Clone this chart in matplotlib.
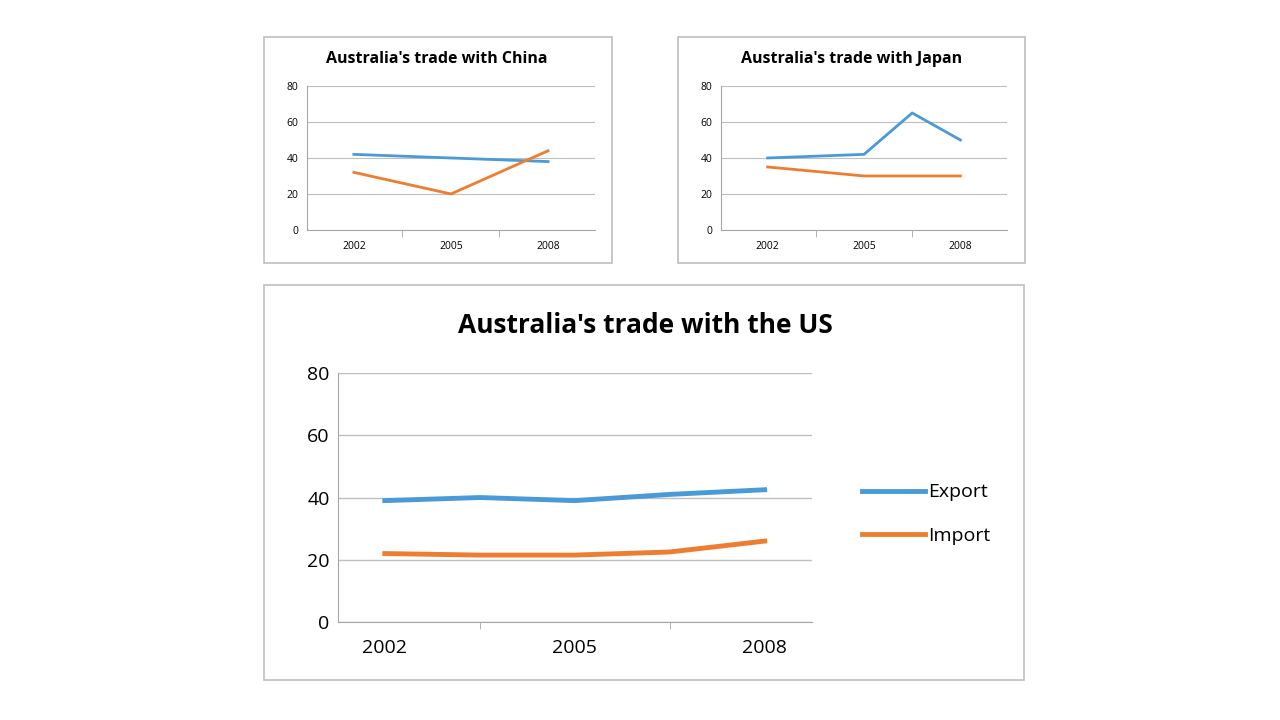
import matplotlib
matplotlib.use("Agg")
import matplotlib.pyplot as plt
from matplotlib.patches import Rectangle

plt.rcParams['font.family'] = ['Open Sans', 'DejaVu Sans']

china_years = [2002, 2005, 2008]
china_export = [42, 40, 38]
china_import = [32, 20, 44]

japan_years = [2002, 2005, 2006.5, 2008]
japan_export = [40, 42, 65, 50]
japan_import = [35, 30, 30, 30]

us_years = [2002, 2003.5, 2005, 2006.5, 2008]
us_export = [39, 40, 39, 41, 42.5]
us_import = [22, 21.5, 21.5, 22.5, 26]

tick_years = [2002, 2005, 2008]
yticks = [0, 20, 40, 60, 80]
BLUE = '#4a9ad8'
ORANGE = '#ed7d31'

fig = plt.figure(figsize=(12.8, 7.2), dpi=100)
for (x, y, w, h) in [(0.206, 0.6347, 0.272, 0.314), (0.5297, 0.6347, 0.271, 0.314), (0.206, 0.0556, 0.594, 0.5486)]:
    fig.patches.append(Rectangle((x, y), w, h, transform=fig.transFigure, fill=False, ec='#bfbfbf', lw=1.2))

def style(ax, fs, lw_grid):
    ax.set_ylim(0, 80)
    ax.set_yticks(yticks)
    ax.set_xticks(tick_years)
    ax.set_xlim(2000.55, 2009.45)
    ax.yaxis.grid(True, color='#bfbfbf', lw=lw_grid)
    ax.set_axisbelow(True)
    for s in ['top', 'right']:
        ax.spines[s].set_visible(False)
    for s in ['left', 'bottom']:
        ax.spines[s].set_color('#a6a6a6')
    ax.tick_params(axis='y', length=0, labelsize=fs, pad=6)
    ax.tick_params(axis='x', length=0, labelsize=fs, pad=8)
    ax.set_xticks([2003.5, 2006.5], minor=True)
    ax.tick_params(axis='x', which='minor', length=5, color='#a6a6a6', direction='out')

ax1 = fig.add_axes([0.2398, 0.6806, 0.225, 0.2])
ax1.plot(china_years, china_export, color=BLUE, lw=2)
ax1.plot(china_years, china_import, color=ORANGE, lw=2)
style(ax1, 7.5, 0.8)
fig.text(0.341, 0.918, "Australia's trade with China", ha='center', va='center', fontsize=11.5, fontweight='bold')

ax2 = fig.add_axes([0.5633, 0.6806, 0.2234, 0.2])
ax2.plot(japan_years, japan_export, color=BLUE, lw=2)
ax2.plot(japan_years, japan_import, color=ORANGE, lw=2)
style(ax2, 7.5, 0.8)
fig.text(0.665, 0.918, "Australia's trade with Japan", ha='center', va='center', fontsize=11.5, fontweight='bold')

ax3 = fig.add_axes([0.264, 0.1361, 0.370, 0.3458])
ax3.plot(us_years, us_export, color=BLUE, lw=3.5, label='Export')
ax3.plot(us_years, us_import, color=ORANGE, lw=3.5, label='Import')
style(ax3, 14, 1)
ax3.set_xlim(2001.26, 2008.74)
ax3.tick_params(axis='x', pad=12)
fig.text(0.504, 0.548, "Australia's trade with the US", ha='center', va='center', fontsize=19, fontweight='bold')
fig.legend(loc='center left', bbox_to_anchor=(0.66, 0.286), frameon=False, fontsize=14,
           handlelength=3.2, labelspacing=1.3, handletextpad=0.2)

fig.savefig('out.png', dpi=100, facecolor='white')
